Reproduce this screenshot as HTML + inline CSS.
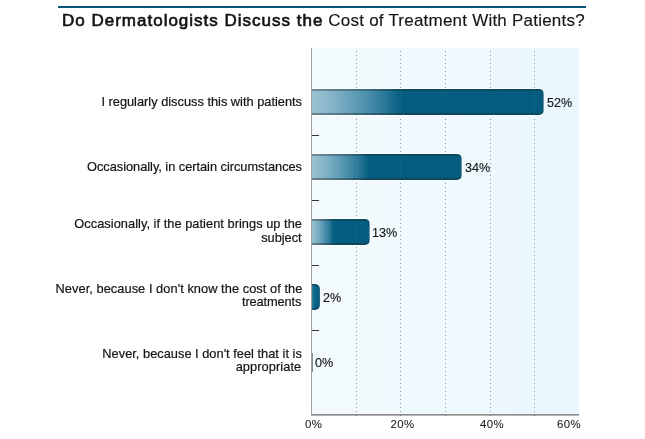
<!DOCTYPE html>
<html>
<head>
<meta charset="utf-8">
<style>
html,body{margin:0;padding:0;background:#fff;}
body{width:645px;height:439px;overflow:hidden;position:relative;will-change:transform;font-family:"Liberation Sans",Arial,sans-serif;color:#1e1e1e;}
.tline{position:absolute;left:58px;top:6px;width:528px;height:2px;background:#0a5378;}
.title{position:absolute;left:62px;top:11px;font-size:17px;line-height:20px;white-space:nowrap;color:#161616;}
.title b{font-weight:normal;letter-spacing:1.0px;-webkit-text-stroke:0.65px #111;}
.title span{letter-spacing:0.22px;-webkit-text-stroke:0.15px #161616;}

.plot{position:absolute;left:312px;top:48px;width:267px;height:366px;background:linear-gradient(90deg,#f3fafd 0%,#eff9fe 50%,#e9f7fe 100%);}
.yaxis{position:absolute;left:311px;top:48px;width:1px;height:367px;background:repeating-linear-gradient(to bottom,#a2a2a2 0,#a2a2a2 7px,#878787 7px,#878787 8px);}
.xaxis{position:absolute;left:311px;top:414px;width:268px;height:2px;background:linear-gradient(#8e8e8e 0,#8e8e8e 1px,#b4b4b4 1px,#b4b4b4 2px);}
.grid{position:absolute;top:48px;height:366px;width:1px;background:repeating-linear-gradient(to bottom,transparent 0,transparent 3px,#8e98a2 3px,#8e98a2 4px);}
.tick{position:absolute;left:312px;width:7px;height:1px;background:#333;}
.bar{--g:linear-gradient(90deg,#9cc3d3 0%,#82b2c6 10%,#5295b0 22%,#2a7797 32%,#0d6487 37%,#055e82 39%,#045d81 100%);position:absolute;left:311px;height:22px;border-top:2px solid rgba(31,43,45,.36);border-bottom:2px solid rgba(31,43,45,.42);border-right:1px solid rgba(31,43,45,.3);border-radius:0 5px 5px 0;box-shadow:0 -1px 0 rgba(255,255,255,.8),0 1px 0 rgba(255,255,255,.8);}
.pct{position:absolute;font-size:12.6px;line-height:14px;letter-spacing:-0.05px;white-space:nowrap;color:#141414;-webkit-text-stroke:0.12px #141414;}
.lbl{position:absolute;right:342px;font-size:12.8px;line-height:14px;letter-spacing:0.05px;text-align:right;white-space:nowrap;color:#141414;-webkit-text-stroke:0.2px #141414;}
.xl{position:absolute;top:417px;font-size:11.4px;letter-spacing:0.45px;line-height:14px;white-space:nowrap;color:#161616;-webkit-text-stroke:0.05px #161616;}
.bt{position:absolute;top:415px;width:1px;height:1px;background:#7a7a7a;}
.gov{position:absolute;width:1px;height:22px;background:repeating-linear-gradient(to bottom,transparent 0,transparent 3px,rgba(190,215,228,.16) 3px,rgba(190,215,228,.16) 4px);background-size:1px 400px;}
</style>
</head>
<body>
<div class="tline"></div>
<div class="title"><b>Do Dermatologists Discuss the</b><span> Cost of Treatment With Patients?</span></div>

<div class="plot"></div>
<div class="grid" style="left:356px"></div>
<div class="grid" style="left:400px"></div>
<div class="grid" style="left:445px"></div>
<div class="grid" style="left:490px"></div>
<div class="grid" style="left:534px"></div>

<div class="bar" style="top:89px;width:231.5px;background:var(--g);"></div>
<div class="bar" style="top:154px;width:150px;background:var(--g);"></div>
<div class="bar" style="top:219px;width:57.5px;background:var(--g);"></div>
<div class="bar" style="top:284px;width:8px;background:linear-gradient(90deg,#3b88a6 0%,#0e6689 45%,#045d81 100%);"></div>
<div style="position:absolute;left:312px;top:353px;width:1px;height:19px;background:#7d9099;"></div>

<div class="gov" style="left:356px;top:91px;background-position:0 -43px"></div>
<div class="gov" style="left:400px;top:91px;background-position:0 -43px"></div>
<div class="gov" style="left:445px;top:91px;background-position:0 -43px"></div>
<div class="gov" style="left:490px;top:91px;background-position:0 -43px"></div>
<div class="gov" style="left:534px;top:91px;background-position:0 -43px"></div>
<div class="gov" style="left:356px;top:156px;background-position:0 -108px"></div>
<div class="gov" style="left:400px;top:156px;background-position:0 -108px"></div>
<div class="gov" style="left:445px;top:156px;background-position:0 -108px"></div>
<div class="gov" style="left:356px;top:221px;background-position:0 -173px"></div>
<div class="yaxis"></div>
<div class="xaxis"></div>
<div class="bt" style="left:356px"></div><div class="bt" style="left:400px"></div><div class="bt" style="left:445px"></div><div class="bt" style="left:490px"></div><div class="bt" style="left:534px"></div>
<div class="tick" style="top:135px"></div>
<div class="tick" style="top:200px"></div>
<div class="tick" style="top:265px"></div>
<div class="tick" style="top:330px"></div>

<div class="pct" style="left:547px;top:96px">52%</div>
<div class="pct" style="left:465px;top:161px">34%</div>
<div class="pct" style="left:372px;top:226px">13%</div>
<div class="pct" style="left:323px;top:291px">2%</div>
<div class="pct" style="left:315px;top:356px">0%</div>


<!--LBL-->
<div class="lbl" style="top:95px;right:343.00px;letter-spacing:0.001px">I regularly discuss this with patients</div>
<div class="lbl" style="top:160px;right:343.00px;letter-spacing:-0.026px">Occasionally, in certain circumstances</div>
<div class="lbl" style="top:217px;right:343.00px;letter-spacing:0.040px">Occasionally, if the patient brings up the</div>
<div class="lbl" style="top:231px;right:343.40px;letter-spacing:-0.017px">subject</div>
<div class="lbl" style="top:282px;right:342.60px;letter-spacing:0.060px">Never, because I don't know the cost of the</div>
<div class="lbl" style="top:295px;right:343.80px;letter-spacing:-0.128px">treatments</div>
<div class="lbl" style="top:347px;right:343.20px;letter-spacing:0.018px">Never, because I don't feel that it is</div>
<div class="lbl" style="top:360px;right:343.80px;letter-spacing:0.070px">appropriate</div>
<!--/LBL-->
<div class="xl" style="left:305px">0%</div>
<div class="xl" style="left:390.5px">20%</div>
<div class="xl" style="left:480px">40%</div>
<div class="xl" style="left:557px">60%</div>
</body>
</html>
